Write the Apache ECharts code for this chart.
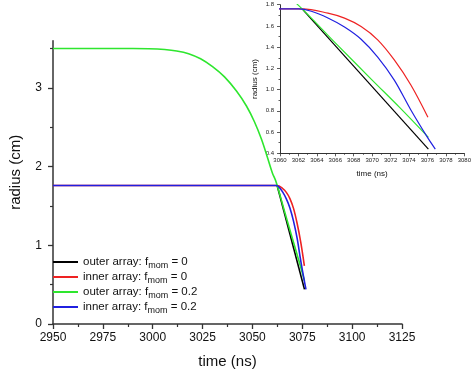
<!DOCTYPE html>
<html><head><meta charset="utf-8">
<script src="https://cdn.jsdelivr.net/npm/echarts@6/dist/echarts.min.js"></script>
<style>html,body{margin:0;padding:0;background:#fff}#c{width:474px;height:374px}</style>
</head><body><div id="c"></div>
<script>
// ---- data ----
const seriesNames = ['outer array: f_mom = 0', 'inner array: f_mom = 0', 'outer array: f_mom = 0.2', 'inner array: f_mom = 0.2'];
const seriesColors = ['#000000', '#ee2222', '#2ee62e', '#2020e0'];

const outer0Time = [3062.4, 3076.1];
const outer0Radius = [1.76, 0.44];

const inner0Time = [2950, 3000, 3062.4, 3065.2, 3067.0, 3068.8, 3070.6, 3072.4, 3074.2, 3076.05];
const inner0Radius = [1.76, 1.76, 1.76, 1.72, 1.673, 1.594, 1.469, 1.28, 1.044, 0.74];

const outer02Time = [2950, 2990, 2998, 3006, 3012, 3018, 3024, 3030, 3036, 3042, 3047, 3051, 3054.5, 3057.5, 3060, 3061.8, 3066, 3070, 3073, 3076.1];
const outer02Radius = [3.5, 3.5, 3.498, 3.488, 3.47, 3.435, 3.37, 3.27, 3.14, 2.96, 2.77, 2.57, 2.35, 2.12, 1.92, 1.81, 1.44, 1.09, 0.83, 0.55];

const inner02Time = [2950, 3000, 3062.0, 3063.4, 3065.2, 3067.0, 3068.8, 3070.6, 3072.4, 3074.2, 3075.95, 3076.85];
const inner02Radius = [1.76, 1.76, 1.76, 1.738, 1.675, 1.59, 1.475, 1.307, 1.09, 0.808, 0.557, 0.44];

const mainXTicks = [2950, 3125, 25];
const mainYLabels = [0, 1, 2, 3];
const mainYMinor = [0.5, 1.5, 2.5, 3.5];
const insetXTicks = [3060, 3080, 2];
const insetYTicks = [0.4, 1.8, 0.2];

// ---- build ----
const zip = (t, r) => t.map((v, i) => [v, r[i]]);
const dataSets = [
  zip(outer0Time, outer0Radius),
  zip(inner0Time, inner0Radius),
  zip(outer02Time, outer02Radius),
  zip(inner02Time, inner02Radius)
];
const FONT = '"Liberation Sans", Arial, sans-serif';
const AX = '#333';
const plain = v => String(v);

const series = [];
[0, 1].forEach(g => {
  dataSets.forEach((d, i) => {
    series.push({
      name: seriesNames[i], type: 'line', data: d,
      xAxisIndex: g, yAxisIndex: g,
      showSymbol: false, symbol: 'none',
      smooth: i === 0 ? false : 0.35,
      clip: true,
      lineStyle: { color: seriesColors[i], width: g === 0 ? 1.6 : 1.2 },
      itemStyle: { color: seriesColors[i] },
      z: 2 + i
    });
  });
});

const chart = echarts.init(document.getElementById('c'), null, { renderer: 'canvas' });
chart.setOption({
  animation: false,
  backgroundColor: '#fff',
  textStyle: { fontFamily: FONT },
  grid: [
    { left: 45, right: 72, top: 40.7, bottom: 45.7 },
    { left: 280, right: 8, top: 4.7, bottom: 220.7 }
  ],
  legend: {
    orient: 'vertical', left: 48, top: 251,
    itemWidth: 25, itemHeight: 2, itemGap: 0.5, icon: 'rect',
    data: seriesNames,
    formatter: name => {
      const parts = name.split('_mom');
      return '{a|' + parts[0] + '}{s|mom}{a|' + parts[1] + '}';
    },
    textStyle: {
      fontFamily: FONT,
      rich: {
        a: { fontSize: 11.5, color: '#111', fontFamily: FONT },
        s: { fontSize: 9, color: '#111', fontFamily: FONT, padding: [8, 0, 0, 0] }
      }
    }
  },
  xAxis: [
    {
      gridIndex: 0, type: 'value', min: mainXTicks[0], max: mainXTicks[1], interval: mainXTicks[2],
      axisLine: { lineStyle: { color: AX, width: 1.5 } },
      axisTick: { length: 5, lineStyle: { color: AX, width: 1.3 } },
      minorTick: { show: true, splitNumber: 2, length: 3, lineStyle: { color: AX, width: 1.2 } },
      axisLabel: { fontSize: 12, color: '#111', margin: 8, formatter: plain },
      splitLine: { show: false },
      name: 'time (ns)', nameLocation: 'middle', nameGap: 30,
      nameTextStyle: { fontSize: 15, color: '#111' }
    },
    {
      gridIndex: 1, type: 'value', min: insetXTicks[0], max: insetXTicks[1], interval: insetXTicks[2],
      axisLine: { lineStyle: { color: AX, width: 1 } },
      axisTick: { length: 3, lineStyle: { color: AX, width: 0.8 } },
      minorTick: { show: true, splitNumber: 2, length: 1.5, lineStyle: { color: AX, width: 0.8 } },
      axisLabel: { fontSize: 6, color: '#222', margin: 4, formatter: plain },
      splitLine: { show: false },
      name: 'time (ns)', nameLocation: 'middle', nameGap: 16,
      nameTextStyle: { fontSize: 8, color: '#111' }
    }
  ],
  yAxis: [
    {
      gridIndex: 0, type: 'value', min: 0, max: 3.6, interval: 1, position: 'left',
      axisLine: { show: true, lineStyle: { color: AX, width: 1.5 } },
      axisTick: { show: true, length: 5, customValues: mainYLabels, lineStyle: { color: AX, width: 1.3 } },
      axisLabel: { fontSize: 12, color: '#111', margin: 11, customValues: mainYLabels, formatter: plain },
      splitLine: { show: false },
      name: 'radius (cm)', nameLocation: 'middle', nameGap: 30,
      nameTextStyle: { fontSize: 15, color: '#111', padding: [0, 0, 0, 20] }
    },
    {
      gridIndex: 1, type: 'value', min: insetYTicks[0], max: insetYTicks[1], interval: insetYTicks[2],
      axisLine: { show: true, lineStyle: { color: AX, width: 1 } },
      axisTick: { show: true, length: 3, lineStyle: { color: AX, width: 0.8 } },
      minorTick: { show: true, splitNumber: 2, length: 1.5, lineStyle: { color: AX, width: 0.8 } },
      axisLabel: { fontSize: 6, color: '#222', margin: 6, formatter: v => v.toFixed(1) },
      splitLine: { show: false },
      name: 'radius (cm)', nameLocation: 'middle', nameGap: 21,
      nameTextStyle: { fontSize: 8, color: '#111' }
    },
    {
      gridIndex: 0, type: 'value', min: 0, max: 3.6, interval: 0.5, position: 'left', offset: 0,
      axisLine: { show: false },
      axisTick: { show: true, length: 3, customValues: mainYMinor, lineStyle: { color: AX, width: 1.2 } },
      axisLabel: { show: false },
      splitLine: { show: false }
    }
  ],
  series: series
});
</script>
</body></html>
